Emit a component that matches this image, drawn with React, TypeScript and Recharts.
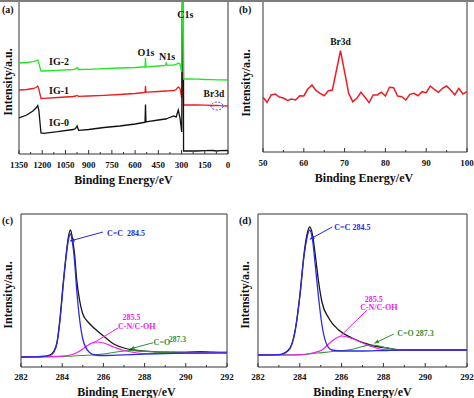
import React from "react";
import { LineChart, Line, XAxis, YAxis, ReferenceArea, ReferenceDot, ReferenceLine } from "recharts";

const SERIF = '"Liberation Serif", "Times New Roman", Times, serif';
const INK = "#111";
const FRAME = "#333";

// (a) survey spectra, binding energy in eV (descending) and intensity in a.u.
const surveyEnergy = [1350, 1300, 1260, 1240, 1229, 1222, 1208, 1190, 1100, 1000, 985, 975, 965, 900, 800, 700, 600, 545, 536, 533, 530, 520, 450, 405, 399, 393, 350, 335, 321, 310, 299, 291, 290, 287, 250, 200, 150, 100, 71, 50, 0];
const ig2 = [91, 91.5, 92.3, 93.2, 94, 91, 83, 83, 83.7, 84.5, 85, 86.5, 84.5, 84.7, 85.3, 86, 86.5, 87, 87, 96, 87, 87.2, 88, 88.5, 91, 88.7, 89, 89.5, 91, 90, 82, 230, 230, 75, 75, 74.8, 74.5, 74.3, 74.2, 74.1, 74];
const ig1 = [64, 64.5, 65.5, 66.5, 68, 65, 55.5, 55.7, 56.5, 57.5, 58, 58.5, 57.7, 58, 58.7, 59.5, 60.5, 61.5, 61.7, 68, 61.7, 61.8, 62.5, 63, 63, 63.2, 63.5, 64.5, 67, 65.5, 56, 230, 230, 49, 49, 49, 48.8, 48.5, 48.5, 48.3, 48];
const ig0 = [36, 39, 43, 46, 48.5, 44, 21, 20.7, 22.3, 24.5, 25.5, 28, 23.7, 24.5, 26.5, 28, 30, 31.5, 31.7, 49.5, 32, 32.3, 34, 35, 35, 35.5, 38, 37, 44, 36, 22, 230, 230, 3, 3, 3, 3.3, 3.5, 3, 3.3, 3.5];
const surveyMajor = [1350, 1200, 1050, 900, 750, 600, 450, 300, 150, 0];
const surveyMinor = [1275, 1125, 975, 825, 675, 525, 375, 225, 75];

// (b) Br3d region of IG-1
const brEnergy = [50, 51, 52, 53, 54, 55, 56, 57, 58, 59, 60, 61, 62, 63, 64, 65, 66, 67, 69, 71, 72, 73, 74, 75, 76, 77, 78, 79, 80, 81, 82, 83, 84, 85, 86, 87, 88, 89, 90, 91, 92, 93, 94, 95, 96, 97, 98, 99, 100];
const brValue = [54.7, 49.7, 57, 58, 55, 54, 51.5, 53, 52, 56.3, 56, 63, 67, 61.3, 58.7, 56.3, 61.3, 62, 101.3, 58.7, 50.3, 53.7, 59.7, 54.7, 49.3, 57, 57, 59.7, 56, 64.7, 64.3, 56, 55.3, 52, 57.7, 58.7, 56.3, 60.3, 59.3, 66, 62.7, 59.7, 63.7, 66, 62, 57, 63.7, 58, 60.3];
const brMajor = [50, 60, 70, 80, 90, 100];
const brMinor = [55, 65, 75, 85, 95];

// (c) C1s of IG-0
const cEnvE = [282, 283, 283.4, 283.6, 283.75, 283.9, 284.05, 284.2, 284.3, 284.4, 284.5, 284.6, 284.7, 284.85, 285, 285.3, 285.6, 286, 286.5, 287, 287.5, 288, 288.5, 289, 290, 290.7, 291.3, 292];
const cEnv = [10, 10.5, 12, 16, 25, 50, 84, 114, 130, 137, 128, 113, 88, 66, 53, 44, 38, 31, 23, 19, 17, 15.8, 15.2, 14.8, 14.6, 15.4, 14.8, 14.5];
const cCCE = [282, 283, 283.4, 283.6, 283.75, 283.9, 284.05, 284.2, 284.3, 284.4, 284.5, 284.6, 284.7, 284.85, 285, 285.3, 285.6, 286, 287, 288, 289, 290, 292];
const cCC = [10, 10.3, 11.5, 15, 24, 48, 82, 112, 127, 133, 124, 106, 78, 47, 28, 15, 12, 11.5, 12.2, 12.8, 13.3, 13.8, 14.2];
const cCNE = [282, 283, 284, 284.5, 285, 285.3, 285.6, 286, 286.5, 287, 287.5, 288, 289, 290, 292];
const cCN = [10, 10.2, 10.8, 12.5, 18, 22.5, 25, 24, 20, 16.5, 14.5, 13.5, 13.5, 13.8, 14.2];
const cCOE = [282, 284, 285, 286, 286.8, 287.3, 287.8, 288.5, 290, 292];
const cCO = [10, 10.5, 11.5, 13, 15.5, 16.5, 16, 15.2, 14.8, 14.6];

// (d) C1s of IG-1
const dEnvE = [282, 283, 283.46, 283.78, 284.02, 284.18, 284.34, 284.47, 284.61, 284.74, 284.9, 285.06, 285.38, 285.86, 286.5, 287.37, 288.17, 289, 290, 291, 292];
const dEnv = [12, 12.3, 17, 37, 75, 109, 132, 140, 132, 112, 85, 65, 49, 37, 29, 22, 19, 17, 17, 17, 17];
const dCCE = [282, 283, 283.46, 283.78, 284.02, 284.18, 284.34, 284.47, 284.61, 284.74, 284.9, 285.06, 285.3, 285.54, 286, 287, 288, 289, 292];
const dCC = [12, 12.3, 16.5, 36, 74, 107, 129, 137, 127, 102, 69, 42, 22, 17, 16, 16, 16.5, 17, 17];
const dCNE = [282, 283, 284.1, 284.6, 285.06, 285.54, 286, 286.5, 286.9, 287.5, 288.17, 289, 292];
const dCN = [12, 12, 12.5, 14, 17, 26, 31, 28.5, 25, 20, 17, 17, 17];
const dCOE = [282, 284, 284.84, 285.8, 286.57, 287, 287.4, 287.8, 288.17, 288.97, 290, 292];
const dCO = [12, 12.2, 14, 16, 18, 20.5, 22, 21, 19, 17, 17, 17];
const c1sMajor = [282, 284, 286, 288, 290, 292];
const c1sMinor = [283, 285, 287, 289, 291];

const BLUE = "#2626dc";
const MAGENTA = "#ee1cee";
const DKGREEN = "#2f8f2f";

type Pt = { e: number; v: number };
const pts = (es: number[], vs: number[]): Pt[] => es.map((e, i) => ({ e, v: vs[i] }));

function tickMaker(majors: number[], gap: number) {
  return (p: any) => {
    const v = p.payload.value;
    const big = majors.includes(v);
    return (
      <g>
        <line x1={p.x} x2={p.x} y1={p.y} y2={p.y - (big ? 4 : 2)} stroke={FRAME} strokeWidth={1} />
        {big && (
          <text x={p.x} y={p.y + gap} textAnchor="middle" fontSize={9} fontWeight="bold" fontFamily={SERIF} fill={INK}>
            {v}
          </text>
        )}
      </g>
    );
  };
}

function yTitle(tag: string, tagY: number, dx: number, dy: number) {
  return (p: any) => {
    const vb = p.viewBox;
    const cx = vb.x + dx;
    const cy = vb.y + vb.height / 2 + dy;
    return (
      <g>
        <text x={2} y={tagY} fontSize={10} fontWeight="bold" fontFamily={SERIF} fill={INK}>{tag}</text>
        <text x={cx} y={cy} transform={`rotate(-90 ${cx} ${cy})`} textAnchor="middle" dominantBaseline="central"
          fontSize={12} fontWeight="bold" fontFamily={SERIF} fill={INK}>Intensity/a.u.</text>
      </g>
    );
  };
}

function xTitle(dx: number, dy: number) {
  return (p: any) => {
    const vb = p.viewBox;
    return (
      <text x={vb.x + vb.width / 2 + dx} y={vb.y + dy} textAnchor="middle" dominantBaseline="central"
        fontSize={12} fontWeight="bold" fontFamily={SERIF} fill={INK}>Binding Energy/eV</text>
    );
  };
}

function note(key: string, x: number, y: number, text: React.ReactNode, color: string, size = 10, anchor: "start" | "middle" = "middle") {
  return (
    <ReferenceDot key={key} x={x} y={y} r={0}
      shape={(p: any) => (
        <text x={p.cx} y={p.cy} textAnchor={anchor} dominantBaseline="central" fill={color}
          fontSize={size} fontWeight="bold" fontFamily={SERIF}>{text}</text>
      )} />
  );
}

function pointer(key: string, from: [number, number], to: [number, number], color: string, head?: number) {
  const out = [
    <ReferenceLine key={key} segment={[{ x: from[0], y: from[1] }, { x: to[0], y: to[1] }]} stroke={color} strokeWidth={1} />,
  ];
  if (head !== undefined) {
    out.push(
      <ReferenceDot key={key + "-h"} x={to[0]} y={to[1]} r={0}
        shape={(p: any) => (
          <polygon points="0,0 -4.5,-2 -4.5,2" transform={`translate(${p.cx} ${p.cy}) rotate(${head})`} fill={color} />
        )} />
    );
  }
  return out;
}

function line(key: string, es: number[], vs: number[], color: string, width: number, curve: "linear" | "monotone") {
  return (
    <Line key={key} data={pts(es, vs)} dataKey="v" type={curve} stroke={color} strokeWidth={width}
      dot={false} activeDot={false} isAnimationActive={false} />
  );
}

type PanelProps = {
  x: number; y: number; w: number; h: number; top: number; right: number; yW: number; xH: number;
  dom: [number, number]; yMax: number; reversed?: boolean; majors: number[]; minors: number[]; gap: number;
  tag: string; tagY: number; yDx: number; yDy: number; xDx: number; xDy: number; children: React.ReactNode;
};

function Panel(p: PanelProps) {
  return (
    <div style={{ position: "absolute", left: p.x, top: p.y }}>
      <LineChart width={p.w} height={p.h} margin={{ top: p.top, right: p.right, bottom: 0, left: 0 }}>
        <XAxis type="number" dataKey="e" domain={p.dom} reversed={p.reversed} allowDataOverflow
          ticks={[...p.majors, ...p.minors]} interval={0} tick={tickMaker(p.majors, p.gap)}
          tickLine={false} axisLine={false} tickSize={0} tickMargin={0} height={p.xH} label={xTitle(p.xDx, p.xDy)} />
        <YAxis type="number" domain={[0, p.yMax]} allowDataOverflow width={p.yW} tick={false} tickLine={false}
          axisLine={false} label={yTitle(p.tag, p.tagY, p.yDx, p.yDy)} />
        <ReferenceArea x1={p.dom[0]} x2={p.dom[1]} y1={0} y2={p.yMax} fill="none" stroke={FRAME} strokeWidth={1} />
        {p.children}
      </LineChart>
    </div>
  );
}

export default function App() {
  return (
    <div style={{ position: "fixed", left: 0, top: 0, width: 474, height: 398, background: "#fff", overflow: "hidden" }}>
      <Panel x={0} y={0} w={237} h={200} top={1} right={9} yW={19} xH={46} dom={[0, 1350]} yMax={153} reversed
        majors={surveyMajor} minors={surveyMinor} gap={14} tag="(a)" tagY={13} yDx={7.5} yDy={4.5} xDx={0} xDy={26}>
        {[
          line("ig1", surveyEnergy, ig1, "#ee1c1c", 1.3, "linear"),
          line("ig0", surveyEnergy, ig0, INK, 1.3, "linear"),
          line("ig2", surveyEnergy, ig2, "#22e622", 1.3, "linear"),
          note("c1s", 276, 140, "C1s", INK, 10),
          note("o1s", 530, 102, "O1s", INK, 10),
          note("n1s", 393, 98, "N1s", INK, 10),
          note("l2", 1091, 93, "IG-2", INK, 10),
          note("l1", 1091, 64, "IG-1", INK, 10),
          note("l0", 1091, 32, "IG-0", INK, 10),
          note("br", 91, 60, "Br3d", INK, 9.5),
          <ReferenceDot key="ring" x={71} y={48} r={0}
            shape={(p: any) => <ellipse cx={p.cx} cy={p.cy} rx={6} ry={4} fill="none" stroke="#3a3af0" strokeWidth={1} strokeDasharray="2 1.5" />} />,
        ]}
      </Panel>

      <Panel x={237} y={0} w={237} h={200} top={1} right={7} yW={26} xH={48} dom={[50, 100]} yMax={151}
        majors={brMajor} minors={brMinor} gap={14} tag="(b)" tagY={13} yDx={9} yDy={6.5} xDx={-1} xDy={26}>
        {[
          line("br", brEnergy, brValue, "#ee1c24", 1.5, "linear"),
          note("brl", 69, 110, "Br3d", INK, 9.5),
        ]}
      </Panel>

      <Panel x={0} y={200} w={237} h={198} top={14} right={10} yW={21} xH={31} dom={[282, 292]} yMax={153}
        majors={c1sMajor} minors={c1sMinor} gap={12.5} tag="(c)" tagY={24} yDx={7.5} yDy={4.5} xDx={2.5} xDy={25}>
        {[
          line("env", cEnvE, cEnv, "#151515", 1.3, "monotone"),
          line("co", cCOE, cCO, "#3c963c", 1.2, "monotone"),
          line("cn", cCNE, cCN, "#f01ef0", 1.2, "monotone"),
          line("cc", cCCE, cCC, "#2a2ae6", 1.3, "monotone"),
          note("cct", 286.17, 134, <>C=C<tspan dx={4}>284.5</tspan></>, BLUE, 8, "start"),
          ...pointer("ccp", [285.98, 135], [284.38, 126], BLUE, 165),
          note("cn1", 287.37, 50, "285.5", MAGENTA, 8),
          note("cn2", 287.62, 41, "C-N/C-OH", MAGENTA, 8),
          ...pointer("cnp", [286.71, 39], [285.51, 24], MAGENTA),
          note("co1", 288.84, 25, "C=O", DKGREEN, 8),
          note("co2", 289.6, 27.5, "287.3", DKGREEN, 7.5),
          ...pointer("cop", [288.42, 24.3], [287.29, 18], DKGREEN, 165),
        ]}
      </Panel>

      <Panel x={237} y={200} w={237} h={198} top={14} right={7} yW={21} xH={31} dom={[282, 292]} yMax={153}
        majors={c1sMajor} minors={c1sMinor} gap={12.5} tag="(d)" tagY={24} yDx={7.5} yDy={4.5} xDx={0} xDy={25}>
        {[
          line("env", dEnvE, dEnv, "#151515", 1.3, "monotone"),
          line("co", dCOE, dCO, "#3c963c", 1.2, "monotone"),
          line("cn", dCNE, dCN, "#f01ef0", 1.2, "monotone"),
          line("cc", dCCE, dCC, "#2a2ae6", 1.3, "monotone"),
          note("cct", 285.65, 140, "C=C 284.5", BLUE, 8, "start"),
          ...pointer("ccp", [285.55, 140], [284.48, 127.7], BLUE, 151),
          note("cn1", 287.54, 67.7, "285.5", MAGENTA, 8),
          note("cn2", 287.78, 59.7, "C-N/C-OH", MAGENTA, 8),
          ...pointer("cnp", [287.22, 57], [285.95, 31], MAGENTA),
          note("co1", 288.66, 33.7, "C=O 287.3", DKGREEN, 8, "start"),
          ...pointer("cop", [288.5, 33], [287.57, 23.7], DKGREEN, 154),
        ]}
      </Panel>

      <div style={{ position: "absolute", left: 0, top: 0, width: 474, height: 2, background: "#7c7c7c" }} />
    </div>
  );
}
